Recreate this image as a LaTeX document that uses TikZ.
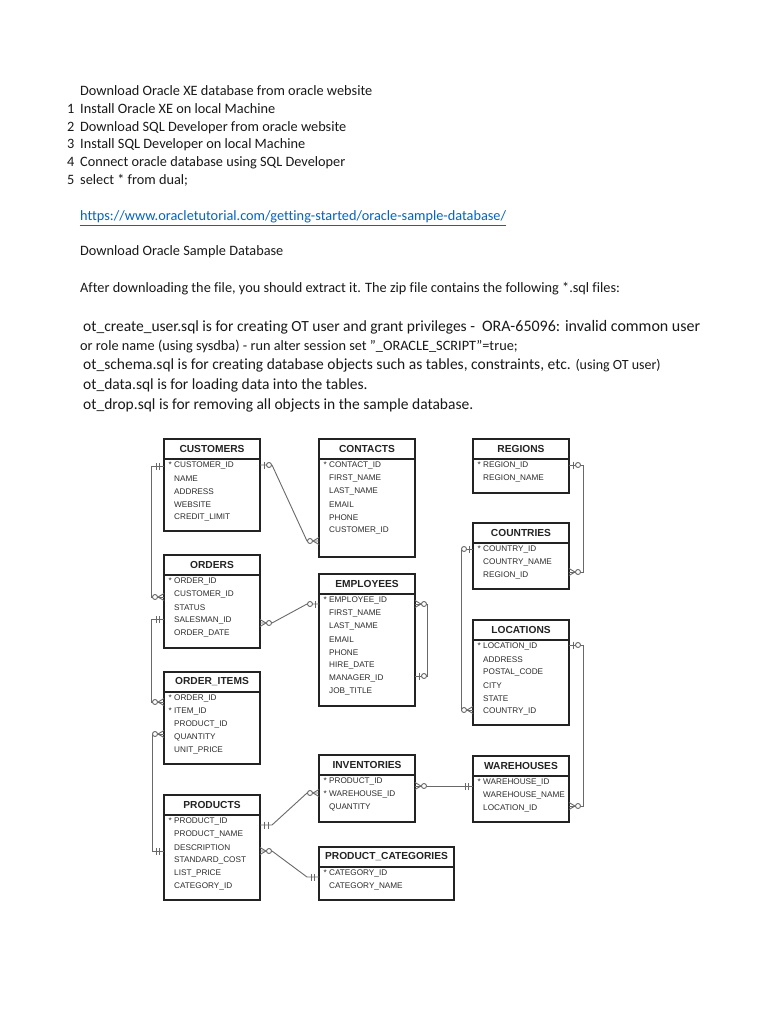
\documentclass[tikz,border=0pt]{standalone}
\usepackage{fontspec}
\setmainfont{Carlito}[Ligatures=CommonOff]
\newfontfamily\erfont{Liberation Sans}
\usetikzlibrary{positioning}
\definecolor{linkblue}{RGB}{5, 99, 193}
\definecolor{boxline}{RGB}{35, 35, 35}
\definecolor{relline}{RGB}{105, 105, 105}
\definecolor{fieldtext}{RGB}{45, 45, 45}
\definecolor{doctext}{RGB}{25, 25, 25}
\newcommand{\pk}{\llap{*\hspace{2.5pt}}}
\newcommand{\bigtxt}{\fontsize{15.5}{18}\selectfont}
\newcommand{\midtxt}{\fontsize{14.3}{17}\selectfont}

\tikzset{
  tblhead/.style={draw=boxline, line width=1.3pt, fill=white, anchor=north west, minimum height=20pt, inner sep=0pt, outer sep=0pt, font=\erfont\fontsize{10.2}{11}\selectfont\bfseries, text=boxline},
  tblbody/.style={draw=boxline, line width=1.3pt, inner sep=0pt, outer sep=0pt},
  field/.style={anchor=west, inner sep=0pt, text=fieldtext, font=\erfont\fontsize{8.2}{9}\selectfont},
  rel/.style={draw=relline, line width=0.9pt},
  doc/.style={anchor=base west, inner sep=0pt, text=doctext, font=\midtxt},
  pics/zeromany/.style={code={
    \draw[rel] (0,-3.5) -- (6,0) -- (0,3.5);
    \draw[rel, fill=white] (9,0) circle (2.5pt);
  }},
  pics/zeroone/.style={code={
    \draw[rel] (4,-3.5) -- (4,3.5);
    \draw[rel, fill=white] (9,0) circle (2.5pt);
  }},
  pics/oneone/.style={code={
    \draw[rel] (4.5,-3.5) -- (4.5,3.5);
    \draw[rel] (8,-3.5) -- (8,3.5);
  }}
}

\begin{document}
\begin{tikzpicture}[x=1pt, y=-1pt]
  \fill[white] (0,0) rectangle (768,1024);
  \useasboundingbox (0,0) rectangle (768,1024);

  % instructions
  \node[doc] (step0) at (67,96) {\makebox[13pt][l]{}Download Oracle XE database from oracle website};
  \node[doc] (step1) at (67,114) {\makebox[13pt][l]{1}Install Oracle XE on local Machine};
  \node[doc] (step2) at (67,132) {\makebox[13pt][l]{2}Download SQL Developer from oracle website};
  \node[doc] (step3) at (67,149) {\makebox[13pt][l]{3}Install SQL Developer on local Machine};
  \node[doc] (step4) at (67,167) {\makebox[13pt][l]{4}Connect oracle database using SQL Developer};
  \node[doc] (step5) at (67,185) {\makebox[13pt][l]{5}select * from dual;};

  \node[doc, text=linkblue] (link) at (80,221) {\underline{https://www.oracletutorial.com/getting-started/oracle-sample-database/}};
  \node[doc] (sample) at (80,255) {Download Oracle Sample Database};
  \node[doc] (after) at (80,292) {After downloading the file, you should extract it. The zip file contains the following *.sql files:};

  \node[doc, font=\bigtxt] (fcreate) at (83,331) {ot\_create\_user.sql is for creating OT user and grant privileges -\ \ {\fontsize{16}{18}\selectfont ORA-65096: invalid common user}};
  \node[doc] (frole) at (80,350) {or role name (using sysdba) - run alter session set "\_ORACLE\_SCRIPT"=true;};
  \node[doc, font=\bigtxt] (fschema) at (83,369) {ot\_schema.sql is for creating database objects such as tables, constraints, etc. {\fontsize{14}{17}\selectfont(using OT user)}};
  \node[doc, font=\bigtxt] (fdata) at (83,389) {ot\_data.sql is for loading data into the tables.};
  \node[doc, font=\bigtxt] (fdrop) at (83,409) {ot\_drop.sql is for removing all objects in the sample database.};

  % tables
  \node[tblhead, minimum width=96pt] (cust) at (164,439) {CUSTOMERS};
  \node[tblbody, minimum width=96pt, minimum height=72pt, below=0pt of cust] (custb) {};
  \foreach \f [count=\i] in {\pk CUSTOMER\_ID, NAME, ADDRESS, WEBSITE, CREDIT\_LIMIT}
    \node[field] at ([xshift=10pt, yshift={-6.5pt-13pt*(\i-1)}]custb.north west) {\f};

  \node[tblhead, minimum width=96pt] (cont) at (319,439) {CONTACTS};
  \node[tblbody, minimum width=96pt, minimum height=98pt, below=0pt of cont] (contb) {};
  \foreach \f [count=\i] in {\pk CONTACT\_ID, FIRST\_NAME, LAST\_NAME, EMAIL, PHONE, CUSTOMER\_ID}
    \node[field] at ([xshift=10pt, yshift={-6.5pt-13pt*(\i-1)}]contb.north west) {\f};

  \node[tblhead, minimum width=96pt] (reg) at (473,439) {REGIONS};
  \node[tblbody, minimum width=96pt, minimum height=34pt, below=0pt of reg] (regb) {};
  \foreach \f [count=\i] in {\pk REGION\_ID, REGION\_NAME}
    \node[field] at ([xshift=10pt, yshift={-6.5pt-13pt*(\i-1)}]regb.north west) {\f};

  \node[tblhead, minimum width=96pt] (coun) at (473,523) {COUNTRIES};
  \node[tblbody, minimum width=96pt, minimum height=46pt, below=0pt of coun] (counb) {};
  \foreach \f [count=\i] in {\pk COUNTRY\_ID, COUNTRY\_NAME, REGION\_ID}
    \node[field] at ([xshift=10pt, yshift={-6.5pt-13pt*(\i-1)}]counb.north west) {\f};

  \node[tblhead, minimum width=96pt] (ord) at (164,555) {ORDERS};
  \node[tblbody, minimum width=96pt, minimum height=73pt, below=0pt of ord] (ordb) {};
  \foreach \f [count=\i] in {\pk ORDER\_ID, CUSTOMER\_ID, STATUS, SALESMAN\_ID, ORDER\_DATE}
    \node[field] at ([xshift=10pt, yshift={-6.5pt-13pt*(\i-1)}]ordb.north west) {\f};

  \node[tblhead, minimum width=96pt] (emp) at (319,574) {EMPLOYEES};
  \node[tblbody, minimum width=96pt, minimum height=112pt, below=0pt of emp] (empb) {};
  \foreach \f [count=\i] in {\pk EMPLOYEE\_ID, FIRST\_NAME, LAST\_NAME, EMAIL, PHONE, HIRE\_DATE, MANAGER\_ID, JOB\_TITLE}
    \node[field] at ([xshift=10pt, yshift={-6.5pt-13pt*(\i-1)}]empb.north west) {\f};

  \node[tblhead, minimum width=96pt] (loc) at (473,620) {LOCATIONS};
  \node[tblbody, minimum width=96pt, minimum height=85pt, below=0pt of loc] (locb) {};
  \foreach \f [count=\i] in {\pk LOCATION\_ID, ADDRESS, POSTAL\_CODE, CITY, STATE, COUNTRY\_ID}
    \node[field] at ([xshift=10pt, yshift={-6.5pt-13pt*(\i-1)}]locb.north west) {\f};

  \node[tblhead, minimum width=96pt] (oi) at (164,672) {ORDER\_ITEMS};
  \node[tblbody, minimum width=96pt, minimum height=72pt, below=0pt of oi] (oib) {};
  \foreach \f [count=\i] in {\pk ORDER\_ID, \pk ITEM\_ID, PRODUCT\_ID, QUANTITY, UNIT\_PRICE}
    \node[field] at ([xshift=10pt, yshift={-6.5pt-13pt*(\i-1)}]oib.north west) {\f};

  \node[tblhead, minimum width=96pt] (inv) at (319,755) {INVENTORIES};
  \node[tblbody, minimum width=96pt, minimum height=47pt, below=0pt of inv] (invb) {};
  \foreach \f [count=\i] in {\pk PRODUCT\_ID, \pk WAREHOUSE\_ID, QUANTITY}
    \node[field] at ([xshift=10pt, yshift={-6.5pt-13pt*(\i-1)}]invb.north west) {\f};

  \node[tblhead, minimum width=96pt] (wh) at (473,756) {WAREHOUSES};
  \node[tblbody, minimum width=96pt, minimum height=46pt, below=0pt of wh] (whb) {};
  \foreach \f [count=\i] in {\pk WAREHOUSE\_ID, WAREHOUSE\_NAME, LOCATION\_ID}
    \node[field] at ([xshift=10pt, yshift={-6.5pt-13pt*(\i-1)}]whb.north west) {\f};

  \node[tblhead, minimum width=96pt] (prod) at (164,795) {PRODUCTS};
  \node[tblbody, minimum width=96pt, minimum height=85pt, below=0pt of prod] (prodb) {};
  \foreach \f [count=\i] in {\pk PRODUCT\_ID, PRODUCT\_NAME, DESCRIPTION, STANDARD\_COST, LIST\_PRICE, CATEGORY\_ID}
    \node[field] at ([xshift=10pt, yshift={-6.5pt-13pt*(\i-1)}]prodb.north west) {\f};

  \node[tblhead, minimum width=135pt] (pcat) at (319,847) {PRODUCT\_CATEGORIES};
  \node[tblbody, minimum width=135pt, minimum height=33pt, below=0pt of pcat] (pcatb) {};
  \foreach \f [count=\i] in {\pk CATEGORY\_ID, CATEGORY\_NAME}
    \node[field] at ([xshift=10pt, yshift={-6.5pt-13pt*(\i-1)}]pcatb.north west) {\f};

  % relationship ends
  \coordinate (custcont) at ([yshift=-6pt]custb.north east);
  \coordinate (contcust) at ([yshift=-82pt]contb.north west);
  \coordinate (regcoun) at ([yshift=-6pt]regb.north east);
  \coordinate (counreg) at ([yshift=-29pt]counb.north east);
  \coordinate (counloc) at ([yshift=-6pt]counb.north west);
  \coordinate (loccoun) at ([yshift=-70pt]locb.north west);
  \coordinate (locwh) at ([yshift=-5pt]locb.north east);
  \coordinate (whloc) at ([yshift=-30pt]whb.north east);
  \coordinate (invwh) at ([yshift=-11pt]invb.north east);
  \coordinate (whinv) at ([yshift=-10pt]whb.north west);
  \coordinate (empmgr) at ([yshift=-10pt]empb.north east);
  \coordinate (mgremp) at ([yshift=-82pt]empb.north east);
  \coordinate (ordemp) at ([yshift=-48pt]ordb.north east);
  \coordinate (empord) at ([yshift=-10pt]empb.north west);
  \coordinate (custord) at ([yshift=-7pt]custb.north west);
  \coordinate (ordcust) at ([yshift=-22pt]ordb.north west);
  \coordinate (ordoi) at ([yshift=-44pt]ordb.north west);
  \coordinate (oiord) at ([yshift=-10pt]oib.north west);
  \coordinate (oiprod) at ([yshift=-42pt]oib.north west);
  \coordinate (prodoi) at ([yshift=-36pt]prodb.north west);
  \coordinate (prodinv) at ([yshift=-10pt]prodb.north east);
  \coordinate (invprod) at ([yshift=-18pt]invb.north west);
  \coordinate (prodpcat) at ([yshift=-36pt]prodb.north east);
  \coordinate (pcatprod) at ([yshift=-10pt]pcatb.north west);

  % relationships
  \draw[rel] (custcont) -- ++(12,0) -- ([xshift=-12pt]contcust) -- (contcust);
  \draw[rel] (regcoun) -- ++(14,0) |- (counreg);
  \draw[rel] (counloc) -- ++(-12,0) |- (loccoun);
  \draw[rel] (locwh) -- ++(14,0) |- (whloc);
  \draw[rel] (invwh) -- (whinv);
  \draw[rel] (empmgr) -- ++(12,0) |- (mgremp);
  \draw[rel] (ordemp) -- ++(12,0) -- ([xshift=-12pt]empord) -- (empord);
  \draw[rel] (custord) -- ++(-13,0) |- (ordcust);
  \draw[rel] (ordoi) -- ++(-13,0) |- (oiord);
  \draw[rel] (oiprod) -- ++(-12,0) |- (prodoi);
  \draw[rel] (prodinv) -- ++(12,0) -- ([xshift=-12pt]invprod) -- (invprod);
  \draw[rel] (prodpcat) -- ++(12,0) -- ([xshift=-12pt]pcatprod) -- (pcatprod);

  % crow's feet
  \pic at (custcont) {zeroone};
  \pic[rotate=180] at (contcust) {zeromany};
  \pic at (regcoun) {zeroone};
  \pic at (counreg) {zeromany};
  \pic[rotate=180] at (counloc) {zeroone};
  \pic[rotate=180] at (loccoun) {zeromany};
  \pic at (locwh) {zeroone};
  \pic at (whloc) {zeromany};
  \pic at (invwh) {zeromany};
  \pic[rotate=180] at (whinv) {oneone};
  \pic at (empmgr) {zeromany};
  \pic at (mgremp) {zeroone};
  \pic at (ordemp) {zeromany};
  \pic[rotate=180] at (empord) {zeroone};
  \pic[rotate=180] at (custord) {oneone};
  \pic[rotate=180] at (ordcust) {zeromany};
  \pic[rotate=180] at (ordoi) {oneone};
  \pic[rotate=180] at (oiord) {zeromany};
  \pic[rotate=180] at (oiprod) {zeromany};
  \pic[rotate=180] at (prodoi) {oneone};
  \pic at (prodinv) {oneone};
  \pic[rotate=180] at (invprod) {zeromany};
  \pic at (prodpcat) {zeromany};
  \pic[rotate=180] at (pcatprod) {oneone};
\end{tikzpicture}
\end{document}
